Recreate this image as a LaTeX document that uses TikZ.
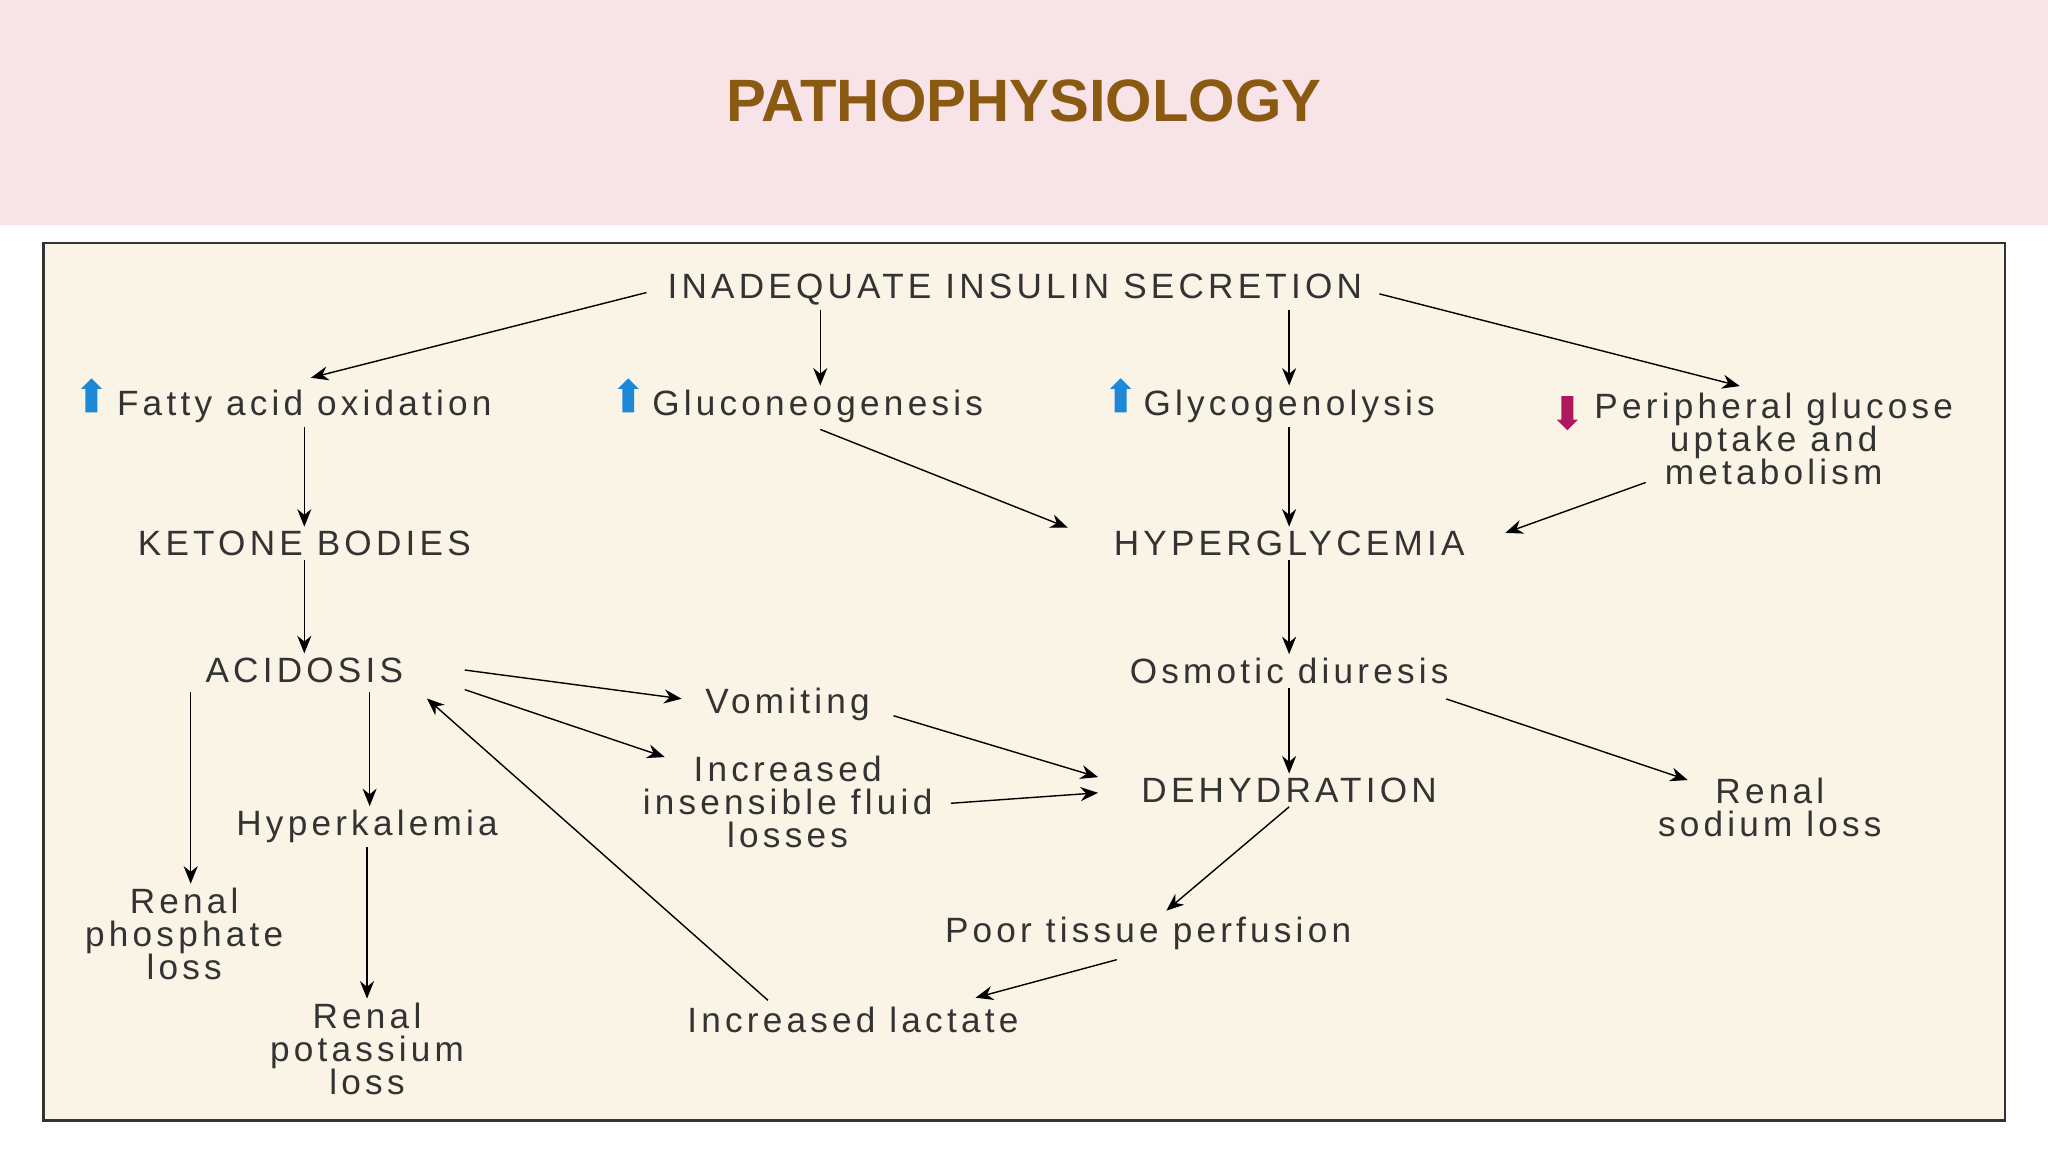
\documentclass[tikz,border=0pt]{standalone}
\usepackage{fontspec}
\setmainfont{Liberation Sans}
\usetikzlibrary{arrows.meta, shapes.arrows, calc}
\definecolor{bandpink}{HTML}{F7E3E8}
\definecolor{panel}{HTML}{FAF4E6}
\definecolor{titlebrown}{HTML}{8A5A12}
\definecolor{upblue}{HTML}{1E88D8}
\definecolor{downred}{HTML}{B0185E}
\definecolor{txt}{HTML}{333333}
\begin{document}
\begin{tikzpicture}[
  x=0.01306cm, y=-0.01306cm,
  >={Stealth[length=5pt,width=4pt]},
  lbl/.style={font=\fontsize{10}{9.4}\selectfont\addfontfeature{LetterSpace=12}, text=txt, align=center, inner sep=1pt},
  flow/.style={->, thin, black},
  trend/.style={single arrow, draw=none, inner sep=1.5pt, single arrow head extend=1.3pt,
    minimum height=9.7pt, single arrow tip angle=90}
]
\useasboundingbox (0,0) rectangle (1568,882);
% background
\fill[bandpink] (0,0) rectangle (1568,172);
\fill[white] (0,172) rectangle (1555,882);
\node[font=\fontsize{17}{20}\selectfont\bfseries, text=titlebrown] (title) at (784,77) {PATHOPHYSIOLOGY};
\draw[fill=panel, draw=black!80, line width=0.8pt] (33,186) rectangle (1535,858);

% top row
\node[lbl] (ins) at (777,222) {INADEQUATE INSULIN SECRETION};
\node[lbl] (fa) at (233,311) {Fatty acid oxidation};
\node[lbl] (gluco) at (626,311) {Gluconeogenesis};
\node[lbl] (glyco) at (987,311) {Glycogenolysis};
\node[lbl] (periph) at (1358,336) {Peripheral glucose\\uptake and\\metabolism};
\node[trend, fill=upblue, rotate=90] (upfa) at (70,305) {};
\node[trend, fill=upblue, rotate=90] (upgl) at (481,305) {};
\node[trend, fill=upblue, rotate=90] (upgy) at (858,305) {};
\node[trend, fill=downred, rotate=-90] (dnpe) at (1200,314) {};

% middle
\node[lbl] (ket) at (233,416) {KETONE BODIES};
\node[lbl] (hyper) at (987,416) {HYPERGLYCEMIA};
\node[lbl] (acid) at (233,513) {ACIDOSIS};
\node[lbl] (osm) at (987,514) {Osmotic diuresis};
\node[lbl] (vom) at (603,539) {Vomiting};
\node[lbl] (insens) at (603,614) {Increased\\insensible fluid\\losses};
\node[lbl] (dehyd) at (987,605) {DEHYDRATION};
\node[lbl] (renalNa) at (1355,618) {Renal\\sodium loss};

% bottom
\node[lbl] (hyperk) at (281,633) {Hyperkalemia};
\node[lbl] (renalP) at (141,715) {Renal\\phosphate\\loss};
\node[lbl] (renalK) at (281,803) {Renal\\potassium\\loss};
\node[lbl] (poor) at (879,715) {Poor tissue perfusion};
\node[lbl] (lact) at (653,781) {Increased lactate};

% connectors
\draw[flow] ($(ins.west)+(-13,2)$) -- ($(fa.north)+(5,-6)$);
\draw[flow] (ins.south -| gluco.north) ++(2,0) coordinate (g1) -- (g1 |- gluco.north);
\draw[flow] (ins.south -| glyco.north) -- (glyco.north);
\draw[flow] ($(ins.east)+(10,3)$) -- ($(periph.north)+(-26,-2)$);
\draw[flow] (fa.south) -- (ket.north);
\draw[flow] (ket.south) -- (acid.north);
\draw[flow] ($(gluco.south)+(2,2)$) -- ($(hyper.west)+(-32,-12)$);
\draw[flow] (glyco.south) -- (hyper.north);
\draw[flow] ($(periph.south)+(-98,-5)$) -- ($(hyper.east)+(28,-8)$);
\draw[flow] (hyper.south) -- (osm.north);
\draw[flow] ($(acid.east)+(44,0)$) -- ($(vom.west)+(-15,-4)$);
\draw[flow] ($(acid.east)+(44,15)$) -- ($(insens.north west)+(20,4)$);
\draw[flow] ($(acid.south)+(-87,4)$) coordinate (a1) -- (a1 |- renalP.north);
\draw[flow] (acid.south -| hyperk.north) ++(2,4) coordinate (a2) -- (a2 |- hyperk.north);
\draw[flow] (hyperk.south) -- (renalK.north);
\draw[flow] ($(vom.east)+(15,9)$) -- ($(dehyd.west)+(-30,-10)$);
\draw[flow] ($(insens.east)+(11,1)$) -- ($(dehyd.west)+(-30,2)$);
\draw[flow] (osm.south) -- (dehyd.north);
\draw[flow] ($(osm.south east)+(-5,8)$) -- ($(renalNa.north west)+(26,5)$);
\draw[flow] (dehyd.south) -- ($(poor.north)+(14,-2)$);
\draw[flow] ($(poor.south)+(-24,4)$) -- ($(lact.north east)+(-36,-4)$);
\draw[flow] ($(lact.north)+(-65,-2)$) -- ($(acid.south east)+(15,9)$);
\end{tikzpicture}
\end{document}
